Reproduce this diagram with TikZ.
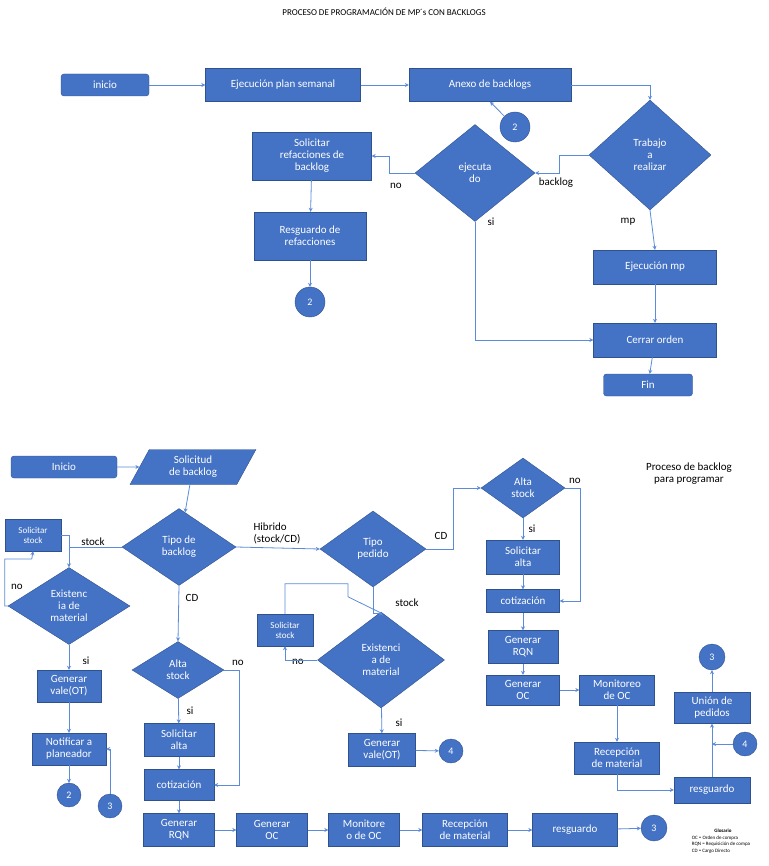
\documentclass[tikz,border=0pt]{standalone}
\usepackage{fontspec}
\setmainfont{Carlito}
\usetikzlibrary{shapes.geometric, arrows.meta, positioning}
\definecolor{ofill}{HTML}{4472C4}
\definecolor{oedge}{HTML}{2F528F}
\definecolor{oline}{HTML}{5B8BD9}

\tikzset{
  box/.style={rectangle, draw=oedge, fill=ofill, text=white, align=center, inner sep=1pt, font=\fontsize{11}{12}\selectfont},
  term/.style={box, rounded corners=3pt},
  dia/.style={diamond, draw=oedge, fill=ofill, text=white, align=center, inner sep=0pt, aspect=1, font=\fontsize{11}{12}\selectfont},
  conn/.style={circle, draw=oedge, fill=ofill, text=white, inner sep=0pt, font=\fontsize{10}{11}\selectfont},
  lbl/.style={font=\fontsize{11}{12}\selectfont},
  arr/.style={draw=oline, line width=0.8pt, -{Stealth[length=4pt,width=4pt]}},
}

\begin{document}
\begin{tikzpicture}[x=1pt, y=-1pt]
  \useasboundingbox (0,0) rectangle (768,866);

  % Title
  \node (title) at (384,12) {\fontsize{9}{10}\selectfont PROCESO DE PROGRAMACIÓN DE MP´s CON BACKLOGS};

  % Upper flow
  \node (ini) [term, minimum width=88, minimum height=22] at (105,85) {inicio};
  \node (plan) [box, minimum width=155, minimum height=33] at (283,85) {Ejecución plan semanal};
  \node (anexo) [box, minimum width=162, minimum height=33] at (490,85) {Anexo de backlogs};
  \node (cA) [conn, minimum size=30] at (515,127) {2};
  \node (trab) [dia, minimum width=122, minimum height=110] at (650,155) {Trabajo\\a\\realizar};
  \node (ejec) [dia, minimum width=120, minimum height=97] at (475,173) {ejecuta\\do};
  \node (solref) [box, minimum width=119, minimum height=48] at (312,156) {Solicitar\\refacciones de\\backlog};
  \node (resref) [box, minimum width=112, minimum height=48] at (310,236) {Resguardo de\\refacciones};
  \node (cB) [conn, minimum size=30] at (310,302) {2};
  \node (ejmp) [box, minimum width=123, minimum height=34] at (655,267) {Ejecución mp};
  \node (cerrar) [box, minimum width=123, minimum height=34] at (655,340) {Cerrar orden};
  \node (fin) [term, minimum width=89, minimum height=22] at (648,385) {Fin};

  \node [lbl] at (396,186) {no};
  \node [lbl] at (556,183) {backlog};
  \node [lbl] at (491,222) {si};
  \node [lbl] at (628,222) {mp};

  \draw[arr] (ini) -- (plan);
  \draw[arr] (plan) -- (anexo);
  \draw[arr] (anexo.east) -| (trab.north);
  \draw[arr] (trab.west) -- ++(-29,0) |- (ejec.east);
  \draw[arr] (ejec.west) -- ++(-25,0) |- (solref.east);
  \draw[arr] (solref) -- (resref);
  \draw[arr] (resref) -- (cB);
  \draw[arr] (cA) -- (anexo.south);
  \draw[arr] (trab.south) -- (ejmp.north);
  \draw[arr] (ejmp) -- (cerrar);
  \draw[arr] (cerrar) -- (fin);
  \draw[arr] (ejec.south) |- (cerrar.west);

  % Lower flow
  \node (note) [lbl, align=center] at (689,474) {Proceso de backlog\\para programar};
  \node (ini2) [term, minimum width=106, minimum height=22] at (64,467) {Inicio};
  \node (sol) [trapezium, trapezium left angle=65, trapezium right angle=115, trapezium stretches=true,
               draw=oedge, fill=ofill, text=white, align=center, inner sep=1pt,
               minimum width=126, minimum height=35, font=\fontsize{11}{12}\selectfont] at (193,467) {Solicitud\\de backlog};
  \node (tipob) [dia, minimum width=114, minimum height=77] at (179,547) {Tipo de\\backlog};
  \node (sst1) [box, minimum width=56, minimum height=32, font=\fontsize{9}{10}\selectfont] at (33,535) {Solicitar\\stock};
  \node (ex1) [dia, minimum width=122, minimum height=77] at (69,606) {Existenc\\ia de\\material};
  \node (vale1) [box, minimum width=64, minimum height=32] at (69,686) {Generar\\vale(OT)};
  \node (notif) [box, minimum width=74, minimum height=32] at (69,749) {Notificar a\\planeador};
  \node (c2) [conn, minimum size=24] at (69,795) {2};
  \node (c3a) [conn, minimum size=24] at (110,806) {3};
  \node (alta1) [dia, minimum width=92, minimum height=57] at (178,670) {Alta\\stock};
  \node (salta1) [box, minimum width=70, minimum height=33] at (179,740) {Solicitar\\alta};
  \node (cot1) [box, minimum width=70, minimum height=31] at (179,785) {cotización};
  \node (rqn1) [box, minimum width=71, minimum height=33] at (179,830) {Generar\\RQN};
  \node (oc1) [box, minimum width=71, minimum height=33] at (272,830) {Generar\\OC};
  \node (mon1) [box, minimum width=71, minimum height=33] at (364,830) {Monitore\\o de OC};
  \node (rec1) [box, minimum width=85, minimum height=33] at (465,830) {Recepción\\de material};
  \node (res1) [box, minimum width=85, minimum height=33] at (575,830) {resguardo};
  \node (c3b) [conn, minimum size=26] at (654,828) {3};
  \node (glos) [align=left, font=\fontsize{5}{6.5}\selectfont] at (721,841) {\hspace*{4.5em}\textbf{Glosario}\\OC = Orden de compra\\RQN = Requisición de compa\\CD = Cargo Directo};

  \node (tipop) [dia, minimum width=106, minimum height=76] at (373,549) {Tipo\\pedido};
  \node (sst2) [box, minimum width=56, minimum height=32, font=\fontsize{9}{10}\selectfont] at (285,630) {Solicitar\\stock};
  \node (ex2) [dia, minimum width=127, minimum height=96] at (381,660) {Existenci\\a de\\material};
  \node (vale2) [box, minimum width=67, minimum height=33] at (382,750) {Generar\\vale(OT)};
  \node (c4a) [conn, minimum size=24] at (451,751) {4};

  \node (alta2) [dia, minimum width=84, minimum height=60] at (523,488) {Alta\\stock};
  \node (salta2) [box, minimum width=73, minimum height=34] at (523,557) {Solicitar\\alta};
  \node (cot2) [box, minimum width=73, minimum height=23] at (523,601) {cotización};
  \node (rqn2) [box, minimum width=70, minimum height=33] at (523,647) {Generar\\RQN};
  \node (oc2) [box, minimum width=73, minimum height=30] at (523,690) {Generar\\OC};
  \node (mon2) [box, minimum width=75, minimum height=30] at (617,690) {Monitoreo\\de OC};
  \node (rec2) [box, minimum width=85, minimum height=32] at (617,758) {Recepción\\de material};
  \node (res2) [box, minimum width=76, minimum height=26] at (712,790) {resguardo};
  \node (union) [box, minimum width=76, minimum height=31] at (712,708) {Unión de\\pedidos};
  \node (c3c) [conn, minimum size=26] at (712,657) {3};
  \node (c4b) [conn, minimum size=24] at (745,744) {4};

  \node [lbl] at (93,542) {stock};
  \node [lbl] at (17,587) {no};
  \node [lbl] at (86,661) {si};
  \node [lbl] at (192,598) {CD};
  \node [lbl] at (238,663) {no};
  \node [lbl] at (190,711) {si};
  \node [lbl, align=left] at (277,533) {Hibrido\\(stock/CD)};
  \node [lbl] at (441,536) {CD};
  \node [lbl] at (407,603) {stock};
  \node [lbl] at (298,662) {no};
  \node [lbl] at (399,723) {si};
  \node [lbl] at (575,481) {no};
  \node [lbl] at (532,529) {si};

  \coordinate (j1) at (69,547);
  \coordinate (j2) at (381,613);

  \draw[arr] (ini2) -- (sol);
  \draw[arr] (sol) -- (tipob);
  \draw[draw=oline, line width=0.8pt] (tipob.west) -- (j1);
  \draw[draw=oline, line width=0.8pt] (sst1.east) -| (j1);
  \draw[arr] (j1) -- (ex1.north);
  \draw[arr] (ex1.west) -- ++(-3,0) |- ++(27,-47) -- (sst1.south);
  \draw[arr] (ex1) -- (vale1);
  \draw[arr] (vale1) -- (notif);
  \draw[arr] (notif) -- (c2);
  \draw[arr] (c3a.north) |- (notif.east);
  \draw[arr] (tipob.south) -- (alta1.north);
  \draw[arr] (alta1) -- (salta1);
  \draw[arr] (alta1.east) -- ++(15,0) |- (cot1.east);
  \draw[arr] (salta1) -- (cot1);
  \draw[arr] (cot1) -- (rqn1);
  \draw[arr] (rqn1) -- (oc1);
  \draw[arr] (oc1) -- (mon1);
  \draw[arr] (mon1) -- (rec1);
  \draw[arr] (rec1) -- (res1);
  \draw[arr] (res1) -- (c3b);

  \draw[arr] (tipob.east) -- (tipop.west);
  \draw[draw=oline, line width=0.8pt] (tipop.south) |- (j2);
  \draw[draw=oline, line width=0.8pt] (sst2.north) |- ++(63,-30) -- ++(0,13) -- (j2);
  \draw[arr] (j2) -- (ex2.north);
  \draw[arr] (ex2.west) -| (sst2.south);
  \draw[arr] (ex2) -- (vale2);
  \draw[arr] (vale2) -- (c4a);

  \draw[arr] (tipop.east) -- ++(27,0) |- (alta2.west);
  \draw[arr] (alta2) -- (salta2);
  \draw[arr] (alta2.east) -- ++(15,0) |- (cot2.east);
  \draw[arr] (salta2) -- (cot2);
  \draw[arr] (cot2) -- (rqn2);
  \draw[arr] (rqn2) -- (oc2);
  \draw[arr] (oc2) -- (mon2);
  \draw[arr] (mon2) -- (rec2);
  \draw[arr] (rec2.south) |- (res2.west);
  \draw[arr] (res2) -- (union);
  \draw[arr] (union) -- (c3c);
  \draw[arr] (c4b.west) -- (union.south |- c4b.west);
\end{tikzpicture}
\end{document}
